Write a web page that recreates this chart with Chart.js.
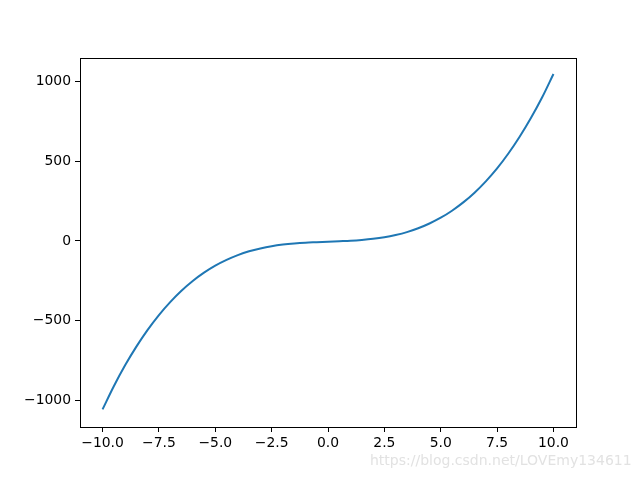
<!DOCTYPE html>
<html>
<head>
<meta charset="utf-8">
<script src="https://cdn.jsdelivr.net/npm/chart.js@4/dist/chart.umd.min.js"></script>
<style>
  body { margin: 0; background: #fff; }
  #wrap { position: relative; width: 640px; height: 480px; }
  #mark {
    position: absolute; left: 370px; top: 452px;
    font-family: "DejaVu Sans", sans-serif; font-size: 14px; color: #e2e2e2;
  }
</style>
</head>
<body>
<div id="wrap">
  <canvas id="plot" width="640" height="480"></canvas>
  <div id="mark">https://blog.csdn.net/LOVEmy134611</div>
</div>
<script>
// valores
const xValues = [-10, -9.5, -9, -8.5, -8, -7.5, -7, -6.5, -6, -5.5, -5, -4.5, -4, -3.5, -3, -2.5, -2, -1.5, -1, -0.5,
  0, 0.5, 1, 1.5, 2, 2.5, 3, 3.5, 4, 4.5, 5, 5.5, 6, 6.5, 7, 7.5, 8, 8.5, 9, 9.5, 10];
const yValues = [-1055, -910, -779, -662, -557, -464, -383, -312, -251, -199, -155, -119, -89, -65, -47, -33, -23, -16, -11, -8,
  -5, -2, 1, 6, 13, 23, 37, 55, 79, 109, 145, 189, 241, 302, 373, 454, 547, 652, 769, 899, 1045];
const xTicks = [-10, -7.5, -5, -2.5, 0, 2.5, 5, 7.5, 10];
const yTicks = [-1000, -500, 0, 500, 1000];

const points = xValues.map((x, i) => ({ x: x, y: yValues[i] }));

function minusSign(s) {
  return s.replace("-", "\u2212");
}

const frameBox = {
  id: "frameBox",
  afterDraw(chart) {
    const a = chart.chartArea;
    const ctx = chart.ctx;
    ctx.save();
    ctx.strokeStyle = "#000";
    ctx.lineWidth = 1;
    ctx.strokeRect(Math.round(a.left) + 0.5, Math.round(a.top) + 0.5,
      Math.round(a.right - a.left), Math.round(a.bottom - a.top));
    ctx.restore();
  }
};

const tickFont = { family: "DejaVu Sans", size: 13.9 };

new Chart(document.getElementById("plot").getContext("2d"), {
  type: "line",
  data: {
    datasets: [{
      data: points,
      borderColor: "#1f77b4",
      borderWidth: 2,
      pointRadius: 0,
      cubicInterpolationMode: "monotone",
      fill: false
    }]
  },
  options: {
    responsive: false,
    animation: false,
    layout: { padding: { top: 58, right: 64, left: 0, bottom: 0 } },
    plugins: { legend: { display: false }, tooltip: { enabled: false } },
    scales: {
      x: {
        type: "linear",
        min: -11,
        max: 11,
        afterBuildTicks: (axis) => { axis.ticks = xTicks.map(v => ({ value: v })); },
        afterFit: (axis) => { axis.height = 53; },
        grid: { drawOnChartArea: false, drawTicks: true, tickLength: 5, color: "#000" },
        border: { display: false },
        ticks: {
          color: "#000",
          font: tickFont,
          padding: 3,
          maxRotation: 0,
          callback: (v) => minusSign(Number(v).toFixed(1))
        }
      },
      y: {
        type: "linear",
        min: -1165,
        max: 1145,
        afterBuildTicks: (axis) => { axis.ticks = yTicks.map(v => ({ value: v })); },
        afterFit: (axis) => { axis.width = 80; },
        grid: { drawOnChartArea: false, drawTicks: true, tickLength: 5, color: "#000" },
        border: { display: false },
        ticks: {
          color: "#000",
          font: tickFont,
          padding: 4,
          callback: (v) => minusSign(String(v))
        }
      }
    }
  },
  plugins: [frameBox]
});
</script>
</body>
</html>
